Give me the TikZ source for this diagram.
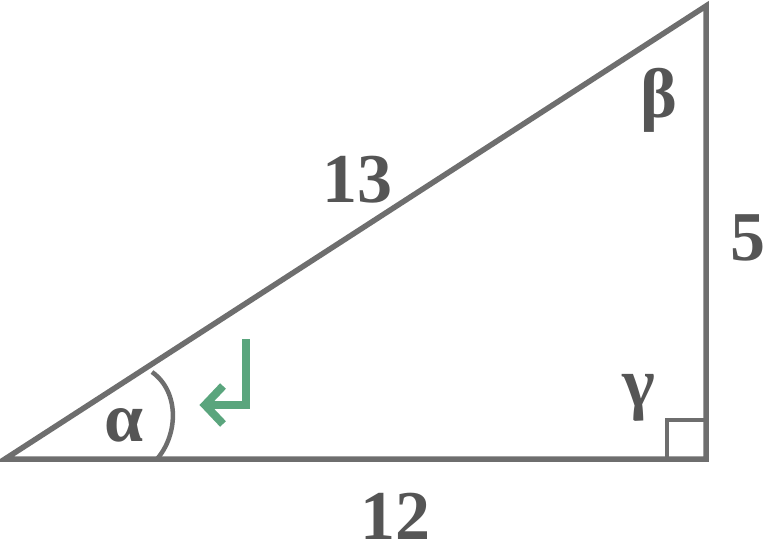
\documentclass[tikz,border=0pt]{standalone}
\usepackage{fontspec}
\setmainfont{Liberation Serif}
\usetikzlibrary{positioning}

\definecolor{edgegray}{HTML}{6E6E6E}
\definecolor{labelgray}{HTML}{555555}
\definecolor{turngreen}{HTML}{5AA57D}

\begin{document}
\begin{tikzpicture}[
            x = 1pt, y = -1pt, % pixel like units
            side/.style = {draw = edgegray, line width = 5.5pt, line join = miter},
            mark arc/.style = {draw = edgegray, line width = 4.5pt},
            turn/.style = {draw = turngreen, line width = 8pt, line join = miter},
            label/.style = {text = labelgray, font = \fontsize{70}{80}\selectfont\bfseries, inner sep = 0pt}
        ]

        \useasboundingbox (0,0) rectangle (768,554);

        \coordinate (A) at (5,459);
        \coordinate (B) at (706,459);
        \coordinate (C) at (706,6);

        \draw[side] (A) -- (B) -- (C) -- cycle;

        % right angle mark
        \coordinate (r1) at (667,459);
        \coordinate (r2) at (667,420);
        \coordinate (r3) at (706,420);
        \draw[mark arc] (r1) -- (r2) -- (r3);

        % angle mark at alpha
        \coordinate (a1) at (152,372);
        \coordinate (a2) at (157,459);
        \draw[mark arc] (a1) .. controls (180,392) and (178,435) .. (a2);

        % green turn arrow
        \coordinate (t1) at (246,339);
        \coordinate (t2) at (246,405);
        \coordinate (t3) at (207,405);
        \coordinate (h1) at (223,386);
        \coordinate (h2) at (205,405);
        \coordinate (h3) at (223,424);
        \draw[turn] (t1) -- (t2) -- (t3);
        \draw[turn] (h1) -- (h2) -- (h3);

        \node[label] (hyp) at (357,180) {13};
        \node[label] (leg5) at (748,238) {5};
        \node[label] (leg12) at (395,516) {12};
        \node[label] (alpha) at (124,425) {α};
        \node[label] (beta) at (659,100) {β};
        \node[label] (gamma) at (639,398) {γ};
    \end{tikzpicture}
\end{document}
